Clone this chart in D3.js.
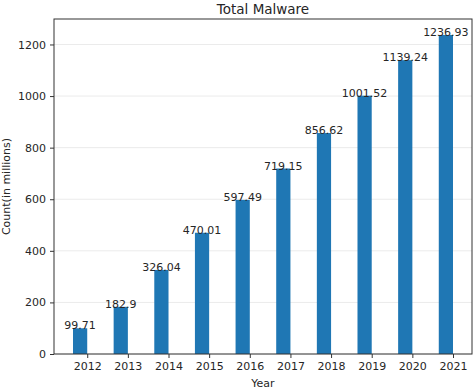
<!DOCTYPE html>
<html>
<head>
<meta charset="utf-8">
<script src="https://cdn.jsdelivr.net/npm/d3@7"></script>
<style>
  body { margin: 0; background: #fff; }
  text { font-family: "DejaVu Sans", sans-serif; fill: #262626; }
</style>
</head>
<body>
<div id="chart"></div>
<script>
const years = [2012, 2013, 2014, 2015, 2016, 2017, 2018, 2019, 2020, 2021];
const counts = [99.71, 182.9, 326.04, 470.01, 597.49, 719.15, 856.62, 1001.52, 1139.24, 1236.93];
const countLabels = ['99.71', '182.9', '326.04', '470.01', '597.49', '719.15', '856.62', '1001.52', '1139.24', '1236.93'];
const yTicks = [0, 200, 400, 600, 800, 1000, 1200];

const width = 474, height = 389;
const margin = { top: 19, right: 2, bottom: 35, left: 54 };
const barW = 0.35;

const svg = d3.select('#chart').append('svg')
    .attr('width', width)
    .attr('height', height);

// bars sit left of the tick (x - width/2 with width 0.35)
const xMin = years[0] - barW, xMax = years[years.length - 1];
const pad = (xMax - xMin) * 0.05;

const x = d3.scaleLinear()
    .domain([xMin - pad, xMax + pad])
    .range([margin.left, width - margin.right]);

const yMax = d3.max(counts) * 1.05;
const y = d3.scaleLinear()
    .domain([0, yMax])
    .range([height - margin.bottom, margin.top]);

// grid
svg.append('g')
    .selectAll('line')
    .data(yTicks)
    .join('line')
    .attr('x1', margin.left)
    .attr('x2', width - margin.right)
    .attr('y1', d => y(d))
    .attr('y2', d => y(d))
    .attr('stroke', '#ebebeb')
    .attr('stroke-width', 1);

svg.append('g')
    .selectAll('rect')
    .data(counts)
    .join('rect')
    .attr('x', (d, i) => x(years[i] - barW))
    .attr('width', (d, i) => x(years[i]) - x(years[i] - barW))
    .attr('y', d => y(d))
    .attr('height', d => y(0) - y(d))
    .attr('fill', '#1f77b4');

svg.append('g')
    .selectAll('text')
    .data(counts)
    .join('text')
    .attr('x', (d, i) => x(years[i] - barW / 2))
    .attr('y', d => y(d) + 1)
    .attr('text-anchor', 'middle')
    .style('font-size', '11px')
    .text((d, i) => countLabels[i]);

const xAxis = svg.append('g')
    .attr('transform', `translate(0, ${height - margin.bottom})`)
    .call(d3.axisBottom(x).tickValues(years).tickFormat(d3.format('d')).tickSize(4).tickPadding(4));

const yAxis = svg.append('g')
    .attr('transform', `translate(${margin.left}, 0)`)
    .call(d3.axisLeft(y).tickValues(yTicks).tickFormat(d3.format('d')).tickSize(4).tickPadding(4));

[xAxis, yAxis].forEach(a => {
    a.select('.domain').remove();
    a.selectAll('line').attr('stroke', '#333');
    a.selectAll('text').style('font-size', '11px').style('font-family', '"DejaVu Sans", sans-serif').attr('fill', '#262626');
});

// frame
svg.append('rect')
    .attr('x', margin.left)
    .attr('y', margin.top)
    .attr('width', width - margin.left - margin.right)
    .attr('height', height - margin.top - margin.bottom)
    .attr('fill', 'none')
    .attr('stroke', '#333')
    .attr('stroke-width', 1);

svg.append('text')
    .attr('x', (margin.left + width - margin.right) / 2)
    .attr('y', 14)
    .attr('text-anchor', 'middle')
    .style('font-size', '13.5px')
    .text('Total Malware');

svg.append('text')
    .attr('x', (margin.left + width - margin.right) / 2)
    .attr('y', 387)
    .attr('text-anchor', 'middle')
    .style('font-size', '11px')
    .text('Year');

svg.append('text')
    .attr('transform', `translate(10, ${(margin.top + height - margin.bottom) / 2}) rotate(-90)`)
    .attr('text-anchor', 'middle')
    .style('font-size', '11px')
    .text('Count(in millions)');
</script>
</body>
</html>
